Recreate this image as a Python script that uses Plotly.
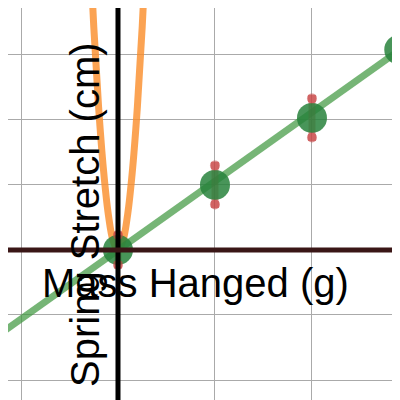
import plotly.graph_objects as go

# measured data (mass units, stretch units)
mass = [0, 1, 2, 2.9]
stretch = [0, 1.0, 2.03, 3.08]
err = [0.23, 0.3, 0.3, 0]

fit_x = [-1.3, 3.1]
fit_y = [-1.38, 3.28]

curve_x = [-0.3, -0.25, -0.2, -0.15, -0.1, -0.05, 0, 0.05, 0.1, 0.15, 0.2, 0.25, 0.3]
curve_y = [4.95, 3.44, 2.2, 1.24, 0.55, 0.14, 0, 0.14, 0.55, 1.24, 2.2, 3.44, 4.95]

fig = go.Figure()
fig.add_trace(go.Scatter(x=curve_x, y=curve_y, mode='lines', line=dict(color='rgba(250,140,40,0.8)', width=7, shape='spline')))
fig.add_trace(go.Scatter(x=fit_x, y=fit_y, mode='lines', line=dict(color='rgba(60,150,60,0.7)', width=7)))
fig.add_trace(go.Scatter(x=mass, y=stretch, mode='markers',
                         marker=dict(color='rgba(40,130,60,0.85)', size=30),
                         error_y=dict(type='data', array=err, color='rgba(200,70,70,0.6)', thickness=7, width=4)))
# error bar end caps
ends_x = [m for m, e in zip(mass, err) if e > 0] * 2
ends_y = [s + e for s, e in zip(stretch, err) if e > 0] + [s - e for s, e in zip(stretch, err) if e > 0]
fig.add_trace(go.Scatter(x=ends_x, y=ends_y, mode='markers', marker=dict(color='rgba(200,70,70,0.6)', size=10)))

fig.update_layout(
    width=400, height=400, showlegend=False, plot_bgcolor='white', paper_bgcolor='white',
    margin=dict(l=0, r=0, t=0, b=0),
    xaxis=dict(range=[-1.134, 2.99], dtick=1, showticklabels=False, gridcolor='#aaaaaa', gridwidth=1,
               zeroline=False),
    yaxis=dict(range=[-2.43, 3.72], dtick=1, showticklabels=False, gridcolor='#aaaaaa', gridwidth=1,
               zeroline=False),
    shapes=[
        dict(type='line', x0=0, x1=0, y0=-3, y1=5, xref='x', yref='y', line=dict(color='black', width=5), layer='above'),
        dict(type='line', x0=-2, x1=4, y0=0, y1=0, xref='x', yref='y', line=dict(color='#3a1616', width=5), layer='above'),
    ],
    annotations=[
        dict(text='Mass Hanged (g)', xref='paper', yref='paper', x=187/400, y=1-275/400,
             xanchor='center', yanchor='middle', showarrow=False,
             font=dict(family='Liberation Sans, Arial', size=40, color='black')),
        dict(text='Spring Stretch (cm)', xref='paper', yref='paper', x=77/400, y=1-207/400,
             xanchor='center', yanchor='middle', showarrow=False, textangle=-90,
             font=dict(family='Liberation Sans, Arial', size=40, color='black')),
    ],
)

fig.write_html("out.html")
